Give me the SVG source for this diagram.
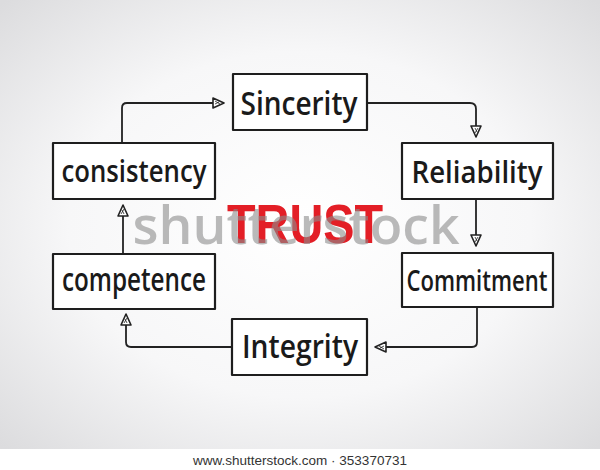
<svg xmlns="http://www.w3.org/2000/svg" width="600" height="470" viewBox="0 0 600 470">
<defs>
<radialGradient id="bg" cx="50%" cy="50%" r="70%">
<stop offset="0" stop-color="#ffffff"/>
<stop offset="0.55" stop-color="#f7f7f8"/>
<stop offset="1" stop-color="#dcdcde"/>
</radialGradient>
<marker id="ah" markerWidth="14" markerHeight="12" refX="12" refY="6" orient="auto" markerUnits="userSpaceOnUse">
<path d="M1,1 L12,6 L1,11 Z" fill="#fff" stroke="#222" stroke-width="1.6" stroke-linejoin="round"/>
<path d="M3,4 L8,7 M3,7 L7,5" stroke="#222" stroke-width="0.8"/>
</marker>
<style>
.box{fill:#fff;stroke:#1e1e1e;stroke-width:2.2;stroke-linejoin:round}
.lbl{font-family:"Open Sans","Noto Sans",sans-serif;font-weight:600;fill:#1a1a1a;text-anchor:middle}
.con{fill:none;stroke:#222;stroke-width:1.8;stroke-linejoin:round;marker-end:url(#ah)}
</style>
</defs>
<rect x="0" y="0" width="600" height="449" fill="url(#bg)"/>
<rect x="0" y="449" width="600" height="21" fill="#ffffff"/>

<g id="connectors">
<path class="con" d="M122,143 L122,108 Q122,103 127,103 L224,103"/>
<path class="con" d="M367,103 L470,103 Q476,103 476,109 L476,137"/>
<path class="con" d="M476,199 L476,246"/>
<path class="con" d="M477,307 L477,342 Q477,347 472,347 L375,347"/>
<path class="con" d="M232,347 L131,347 Q126,347 126,342 L126,314"/>
<path class="con" d="M123,254 L123,205"/>
</g>

<g id="sincerity">
<rect class="box" x="233" y="74" width="134" height="56"/>
<text class="lbl" x="299" y="115" font-size="33" textLength="117" lengthAdjust="spacingAndGlyphs">Sincerity</text>
</g>
<g id="reliability">
<rect class="box" x="402" y="143" width="151" height="56"/>
<text class="lbl" x="477" y="183" font-size="31" textLength="131" lengthAdjust="spacingAndGlyphs">Reliability</text>
</g>
<g id="commitment">
<rect class="box" x="402" y="253" width="151" height="54"/>
<text class="lbl" x="477" y="291" font-size="29" textLength="141" lengthAdjust="spacingAndGlyphs">Commitment</text>
</g>
<g id="integrity">
<rect class="box" x="232" y="319" width="135" height="56"/>
<text class="lbl" x="300" y="358" font-size="32" textLength="116" lengthAdjust="spacingAndGlyphs">Integrity</text>
</g>
<g id="competence">
<rect class="box" x="53" y="254" width="162" height="55"/>
<text class="lbl" x="134" y="291" font-size="32" textLength="144" lengthAdjust="spacingAndGlyphs">competence</text>
</g>
<g id="consistency">
<rect class="box" x="53" y="143" width="162" height="56"/>
<text class="lbl" x="134" y="182" font-size="31" textLength="145" lengthAdjust="spacingAndGlyphs">consistency</text>
</g>

<g id="trust">
<text x="305" y="243" font-family="'Liberation Sans',sans-serif" font-weight="bold" font-size="56" fill="#e31e26" text-anchor="middle" textLength="156" lengthAdjust="spacingAndGlyphs">TRUST</text>
</g>

<text x="296" y="244" font-family="'Open Sans',sans-serif" font-weight="600" font-size="53" fill="#8c8c8c" fill-opacity="0.6" text-anchor="middle" textLength="327" lengthAdjust="spacingAndGlyphs">shutterstock</text>
<text x="300" y="465" font-family="'Liberation Sans',sans-serif" font-size="13.5" fill="#333" text-anchor="middle">www.shutterstock.com · 353370731</text>
</svg>
